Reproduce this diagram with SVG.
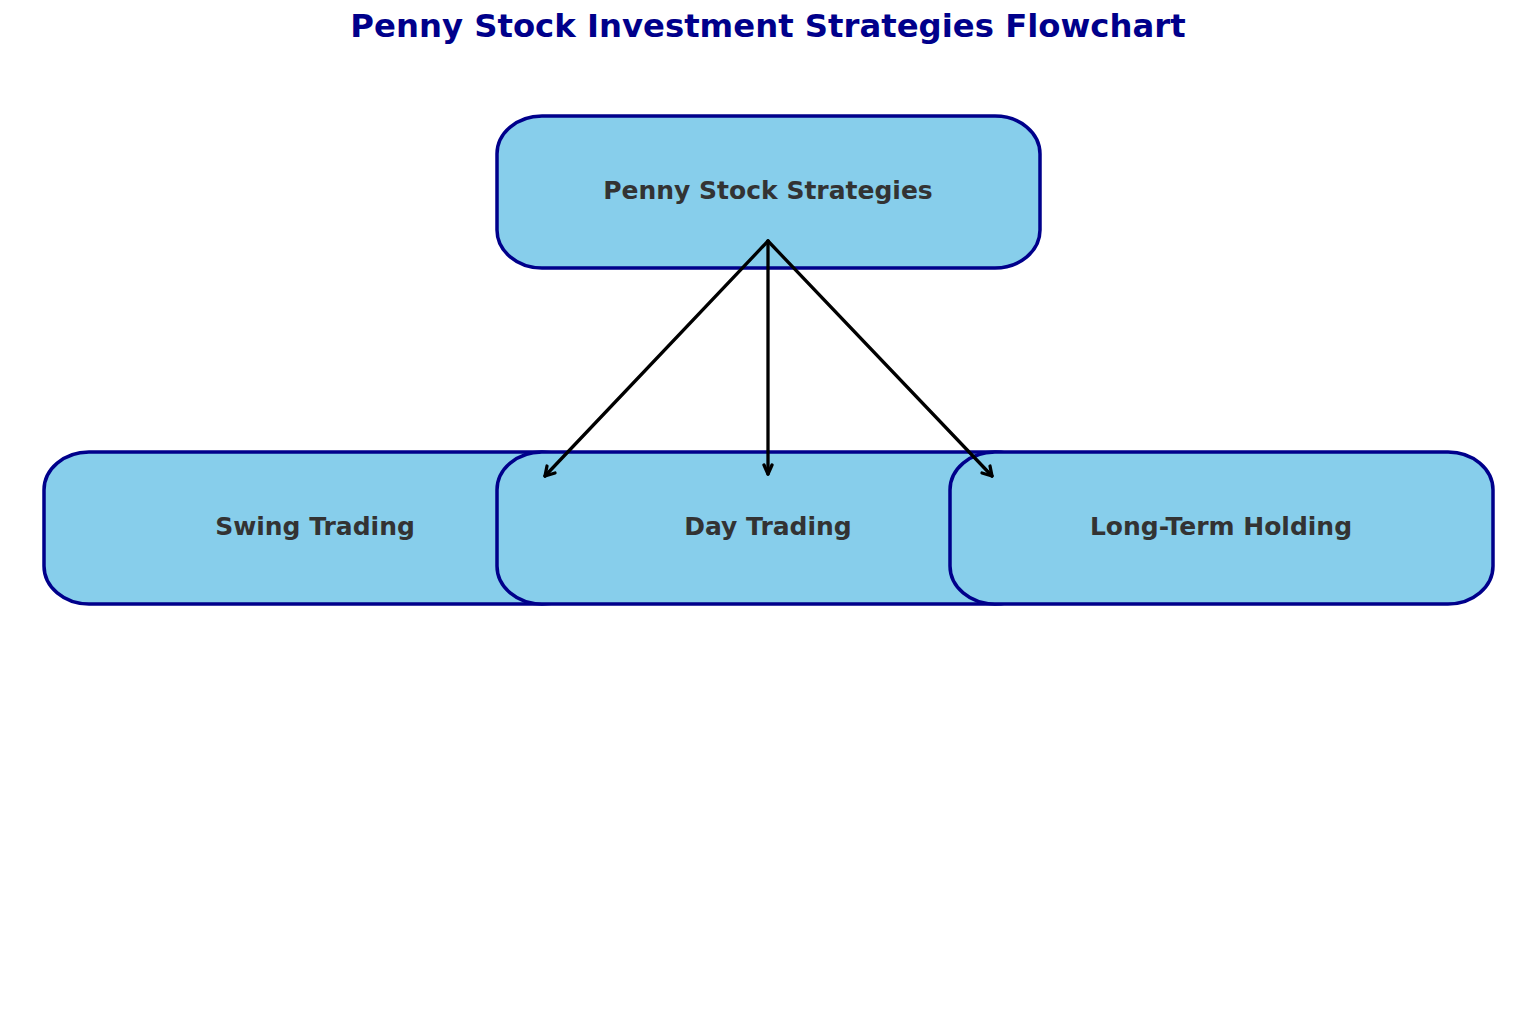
<svg xmlns="http://www.w3.org/2000/svg" width="1536" height="1020" viewBox="0 0 1536 1020">
<style>
.box{fill:#87CEEB;stroke:#00008B;stroke-width:3.5}
.lbl{font-family:"DejaVu Sans",sans-serif;font-weight:bold;font-size:25px;fill:#333333;text-anchor:middle}
.title{font-family:"DejaVu Sans",sans-serif;font-weight:bold;font-size:32.3px;fill:#00008B;text-anchor:middle}
.edge{stroke:#000;stroke-width:3.3;fill:none}
</style>
<rect width="1536" height="1020" fill="#fff"/>
<text class="title" x="768" y="37">Penny Stock Investment Strategies Flowchart</text>
<g id="node-root"><rect class="box" x="497" y="116" width="543" height="152" rx="45" ry="38"/><text class="lbl" x="768" y="199">Penny Stock Strategies</text></g>
<g id="node-swing"><rect class="box" x="44" y="452" width="543" height="152" rx="45" ry="38"/><text class="lbl" x="315" y="535">Swing Trading</text></g>
<g id="node-day"><rect class="box" x="497" y="452" width="543" height="152" rx="45" ry="38"/><text class="lbl" x="768" y="535">Day Trading</text></g>
<g id="node-long"><rect class="box" x="950" y="452" width="543" height="152" rx="45" ry="38"/><text class="lbl" x="1221" y="535">Long-Term Holding</text></g>
<g id="connectors" class="edge" stroke-linecap="round" stroke-linejoin="round">
<path d="M768 241 L545 476"/><path d="M545 476 L547 466 M545 476 L555 473"/>
<path d="M768 241 L768 474"/><path d="M768 474 L764 465 M768 474 L772 465"/>
<path d="M768 241 L992 476"/><path d="M992 476 L982 473 M992 476 L990 466"/>
</g>
</svg>
